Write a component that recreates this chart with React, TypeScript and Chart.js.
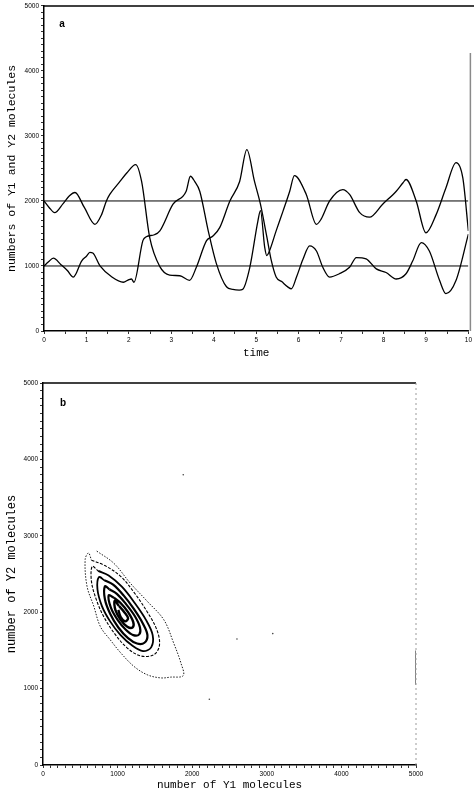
import React, { useEffect, useRef } from "react";
import { Chart, registerables } from "chart.js";
Chart.register(...registerables);

// ---------- Panel a: time series ----------
const timeLabels = [0, 1, 2, 3, 4, 5, 6, 7, 8, 9, 10];
const countLabelsA = [0, 1000, 2000, 3000, 4000, 5000];
const referenceLevels = [2000, 1000];

const y1Time = [0, 0.1, 0.22, 0.4, 0.55, 0.69, 0.89, 1.0, 1.08, 1.15, 1.32, 1.6, 1.87, 2.0, 2.06, 2.12, 2.33, 2.41, 2.6, 2.73, 3.04, 3.35, 3.45, 3.55, 3.67, 3.87, 4.06, 4.3, 4.45, 4.6, 4.68, 4.85, 5.04, 5.1, 5.2, 5.25, 5.3, 5.47, 5.63, 5.79, 5.9, 6.18, 6.42, 6.53, 6.73, 7.04, 7.2, 7.44, 7.67, 7.98, 8.3, 8.46, 8.53, 8.77, 9.0, 9.24, 9.47, 9.71, 9.87, 10.0];
const y1Count = [1000, 1060, 1120, 1020, 930, 830, 1080, 1150, 1210, 1200, 1000, 830, 750, 790, 800, 750, 1390, 1450, 1480, 1540, 1950, 2150, 2380, 2300, 2150, 1540, 1040, 680, 640, 630, 640, 980, 1690, 1850, 1290, 1160, 1210, 1540, 1840, 2150, 2390, 2100, 1640, 1720, 2000, 2175, 2100, 1820, 1750, 1950, 2150, 2280, 2330, 2000, 1510, 1790, 2200, 2590, 2350, 1540];

const y2Time = [0, 0.12, 0.25, 0.45, 0.6, 0.73, 0.95, 1.2, 1.35, 1.47, 1.55, 1.79, 1.95, 2.16, 2.3, 2.49, 2.73, 2.96, 3.2, 3.43, 3.59, 3.83, 3.98, 4.14, 4.38, 4.61, 4.78, 4.96, 5.1, 5.25, 5.35, 5.47, 5.6, 5.75, 5.83, 5.95, 6.1, 6.26, 6.42, 6.57, 6.73, 6.96, 7.2, 7.36, 7.59, 7.83, 8.06, 8.3, 8.53, 8.69, 8.89, 9.08, 9.32, 9.47, 9.71, 10.0];
const y2Count = [2000, 1900, 1820, 1960, 2080, 2130, 1900, 1640, 1780, 2000, 2100, 2300, 2430, 2560, 2300, 1440, 990, 860, 850, 780, 980, 1390, 1460, 1590, 2000, 2300, 2790, 2300, 1950, 1450, 1100, 830, 760, 675, 650, 830, 1100, 1310, 1230, 980, 830, 880, 980, 1130, 1110, 955, 900, 800, 880, 1080, 1360, 1230, 780, 575, 780, 1490];

// ---------- Panel b: phase plane ----------
const y1AxisLabels = [0, 1000, 2000, 3000, 4000, 5000];
const y2AxisLabels = [0, 1000, 2000, 3000, 4000, 5000];

// spiral trajectory (Y1, Y2), loops from outside to inside
const phaseY1 = [
  720, 950, 1170, 1400, 1620, 1750, 1850, 1880, 1710, 1580, 1400, 1220, 1040, 900, 770, 680, 590, 565, 610,
  650, 830, 1040, 1220, 1400, 1530, 1560, 1480, 1300, 1120, 960, 820, 720, 650, 660,
  740, 880, 1060, 1230, 1380, 1470, 1450, 1340, 1200, 1040, 900, 790, 730, 750,
  820, 940, 1080, 1220, 1340, 1400, 1360, 1260, 1140, 1010, 900, 830, 830,
  890, 990, 1110, 1230, 1300, 1290, 1210, 1110, 1000, 910, 880,
  950, 1040, 1140, 1210, 1200, 1130, 1040, 970, 960,
  1020, 1090, 1140, 1100, 1040, 1010,
];
const phaseY2 = [
  2800, 2640, 2380, 2140, 1900, 1600, 1330, 1170, 1150, 1140, 1180, 1290, 1470, 1640, 1810, 2080, 2340, 2690, 2775,
  2680, 2610, 2470, 2260, 2000, 1760, 1560, 1440, 1430, 1540, 1720, 1930, 2150, 2400, 2600,
  2540, 2480, 2330, 2120, 1900, 1700, 1540, 1490, 1560, 1700, 1880, 2080, 2300, 2460,
  2420, 2360, 2220, 2040, 1850, 1700, 1600, 1590, 1660, 1800, 1980, 2170, 2340,
  2300, 2240, 2110, 1950, 1800, 1710, 1700, 1770, 1900, 2060, 2220,
  2190, 2120, 2000, 1870, 1800, 1810, 1900, 2030, 2150,
  2080, 2000, 1920, 1880, 1940, 2030,
];
const loopStarts = [0, 19, 34, 48, 61, 72, 81];

const speckY1 = [1880, 2230, 2600, 3080];
const speckY2 = [3800, 860, 1650, 1720];
const edgeY1 = [5000, 5000];
const edgeY2 = [1050, 1500];

const TICK_FONT = { family: "Liberation Sans", size: 6.5 };

function minorTicks(max: number, step: number) {
  const out: { value: number }[] = [];
  for (let v = 0; v <= max + 1e-9; v += step) out.push({ value: Math.round(v * 100) / 100 });
  return out;
}

function axis(opts: any) {
  const { max, step, labels, fit, title, titleFont, titlePadding, horizontal } = opts;
  return {
    type: "linear",
    min: 0,
    max,
    afterBuildTicks: (s: any) => {
      s.ticks = minorTicks(max, step);
    },
    afterFit: (s: any) => {
      if (horizontal) s.height = fit;
      else s.width = fit;
    },
    ticks: {
      autoSkip: false,
      maxRotation: 0,
      minRotation: 0,
      padding: 2,
      color: "#000",
      font: TICK_FONT,
      callback: (v: number) => (labels.includes(v) ? String(v) : ""),
    },
    grid: {
      drawOnChartArea: false,
      drawTicks: true,
      tickLength: 3,
      color: "#000",
      tickColor: "#000",
      lineWidth: 0.8,
    },
    border: { display: true, color: "#000", width: 1.5 },
    title: {
      display: true,
      text: title,
      color: "#000",
      font: titleFont,
      padding: titlePadding,
    },
  };
}

function PanelA() {
  const ref = useRef<HTMLCanvasElement | null>(null);
  useEffect(() => {
    const frame = {
      id: "frameA",
      afterDraw(chart: any) {
        const { ctx, chartArea: a } = chart;
        ctx.save();
        ctx.strokeStyle = "#000";
        ctx.lineWidth = 1.5;
        ctx.beginPath();
        ctx.moveTo(a.left, a.top);
        ctx.lineTo(474, a.top);
        ctx.stroke();
        ctx.strokeStyle = "#8a8a8a";
        ctx.lineWidth = 1.5;
        ctx.beginPath();
        ctx.moveTo(a.right + 2, a.top + 47);
        ctx.lineTo(a.right + 2, a.bottom);
        ctx.stroke();
        ctx.fillStyle = "#000";
        ctx.font = 'bold 10px "Liberation Sans"';
        ctx.textAlign = "center";
        ctx.textBaseline = "middle";
        ctx.fillText("a", a.left + 18, a.top + 18);
        ctx.restore();
      },
    };
    const line = (xs: number[], ys: number[], w: number) => ({
      data: xs.map((x, i) => ({ x, y: ys[i] })),
      showLine: true,
      borderColor: "#000",
      borderWidth: w,
      pointRadius: 0,
      cubicInterpolationMode: "monotone",
      fill: false,
    });
    const refSets = referenceLevels.map((lvl) =>
      line([timeLabels[0], timeLabels[timeLabels.length - 1]], [lvl, lvl], 1)
    );
    const chart = new Chart(ref.current!, {
      type: "scatter",
      data: {
        datasets: [
          ...refSets,
          line(y1Time, y1Count, 1.3),
          line(y2Time, y2Count, 1.3),
        ] as any,
      },
      options: {
        animation: false,
        responsive: false,
        devicePixelRatio: 1,
        layout: { padding: { top: 3, right: 5, left: 0, bottom: 0 } },
        plugins: { legend: { display: false }, tooltip: { enabled: false } },
        scales: {
          x: axis({
            max: 10,
            step: 0.5,
            labels: timeLabels,
            fit: 34,
            horizontal: true,
            title: "time",
            titleFont: { family: "Liberation Mono", size: 11 },
            titlePadding: { top: 0, bottom: 5 },
          }),
          y: axis({
            max: 5000,
            step: 100,
            labels: countLabelsA,
            fit: 44,
            horizontal: false,
            title: "numbers of Y1 and Y2 molecules",
            titleFont: { family: "Liberation Mono", size: 11.5 },
            titlePadding: { top: 5, bottom: 0 },
          }),
        } as any,
      },
      plugins: [frame],
    });
    return () => chart.destroy();
  }, []);
  return (
    <canvas
      ref={ref}
      width={474}
      height={365}
      style={{ position: "absolute", left: 0, top: 0, width: 474, height: 365 }}
    />
  );
}

function PanelB() {
  const ref = useRef<HTMLCanvasElement | null>(null);
  useEffect(() => {
    const frame = {
      id: "frameB",
      afterDraw(chart: any) {
        const { ctx, chartArea: a } = chart;
        ctx.save();
        ctx.strokeStyle = "#000";
        ctx.lineWidth = 1.5;
        ctx.beginPath();
        ctx.moveTo(a.left, a.top);
        ctx.lineTo(a.right, a.top);
        ctx.stroke();
        ctx.strokeStyle = "#9a9a9a";
        ctx.lineWidth = 1;
        ctx.setLineDash([2, 3]);
        ctx.beginPath();
        ctx.moveTo(a.right, a.top);
        ctx.lineTo(a.right, a.bottom);
        ctx.stroke();
        ctx.setLineDash([]);
        ctx.fillStyle = "#000";
        ctx.font = 'bold 10px "Liberation Sans"';
        ctx.textAlign = "center";
        ctx.textBaseline = "middle";
        ctx.fillText("b", a.left + 20, a.top + 20);
        ctx.restore();
      },
    };
    const styles = [
      { w: 0.9, dash: [1.5, 1.5] },
      { w: 1.1, dash: [3, 1.5] },
      { w: 1.8, dash: [] },
      { w: 2.2, dash: [] },
      { w: 2.2, dash: [] },
      { w: 2.4, dash: [] },
      { w: 2.4, dash: [] },
    ];
    const loops = loopStarts.map((s, k) => {
      const e = k + 1 < loopStarts.length ? loopStarts[k + 1] + 1 : phaseY1.length;
      const xs = phaseY1.slice(s, e);
      const ys = phaseY2.slice(s, e);
      return {
        data: xs.map((x, i) => ({ x, y: ys[i] })),
        showLine: true,
        borderColor: "#000",
        borderWidth: styles[k].w,
        borderDash: styles[k].dash,
        pointRadius: 0,
        tension: 0.35,
        fill: false,
      };
    });
    const specks = {
      data: speckY1.map((x, i) => ({ x, y: speckY2[i] })),
      showLine: false,
      pointRadius: 0.8,
      pointBackgroundColor: "#444",
      pointBorderWidth: 0,
    };
    const edge = {
      data: edgeY1.map((x, i) => ({ x, y: edgeY2[i] })),
      showLine: true,
      borderColor: "#333",
      borderWidth: 1.2,
      pointRadius: 0,
    };
    const chart = new Chart(ref.current!, {
      type: "scatter",
      data: { datasets: [...loops, specks, edge] as any },
      options: {
        animation: false,
        responsive: false,
        devicePixelRatio: 1,
        layout: { padding: { top: 8, right: 58, left: 0, bottom: 0 } },
        plugins: { legend: { display: false }, tooltip: { enabled: false } },
        scales: {
          x: axis({
            max: 5000,
            step: 100,
            labels: y1AxisLabels,
            fit: 27,
            horizontal: true,
            title: "number of Y1 molecules",
            titleFont: { family: "Liberation Mono", size: 11 },
            titlePadding: { top: 0, bottom: 0 },
          }),
          y: axis({
            max: 5000,
            step: 100,
            labels: y2AxisLabels,
            fit: 43,
            horizontal: false,
            title: "number of Y2 molecules",
            titleFont: { family: "Liberation Mono", size: 12 },
            titlePadding: { top: 5, bottom: 0 },
          }),
        } as any,
      },
      plugins: [frame],
    });
    return () => chart.destroy();
  }, []);
  return (
    <canvas
      ref={ref}
      width={474}
      height={417}
      style={{ position: "absolute", left: 0, top: 375, width: 474, height: 417 }}
    />
  );
}

export default function App() {
  useEffect(() => {
    document.body.style.margin = "0";
    document.body.style.overflow = "hidden";
    document.body.style.background = "#fff";
  }, []);
  return (
    <div style={{ position: "relative", width: 474, height: 792, background: "#fff", overflow: "hidden" }}>
      <PanelA />
      <PanelB />
    </div>
  );
}
